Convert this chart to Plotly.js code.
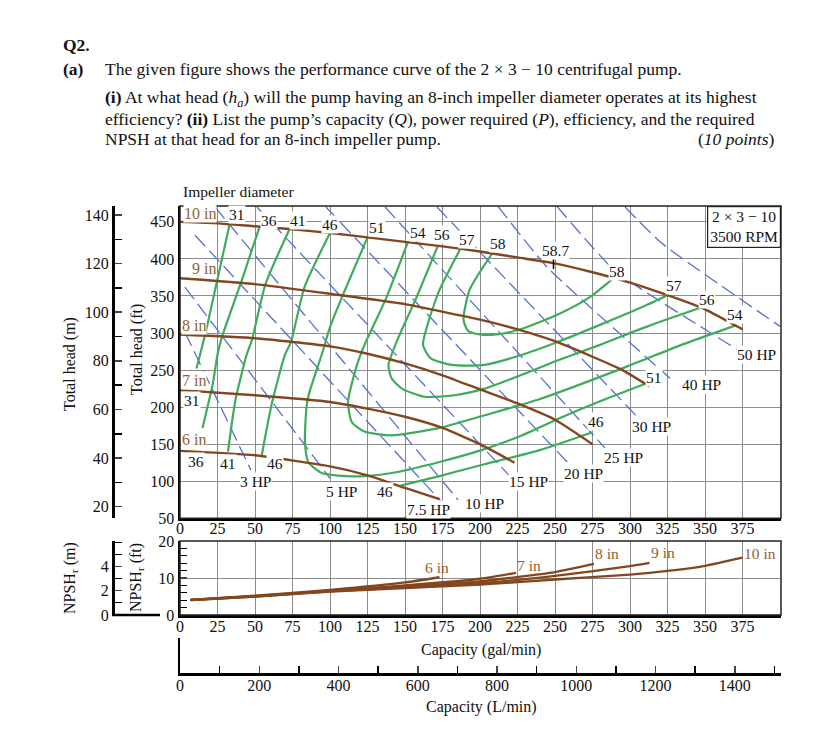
<!DOCTYPE html>
<html><head><meta charset="utf-8">
<script src="https://cdn.plot.ly/plotly-3.0.1.min.js"></script>
<style>html,body{margin:0;padding:0;background:#fff}#chart{width:834px;height:732px}</style>
</head><body><div id="chart"></div>
<script>
// ---------- tick labels ----------
const capTicks = [0,25,50,75,100,125,150,175,200,225,250,275,300,325,350,375];
const headFtTicks = [50,100,150,200,250,300,350,400,450];
const headMTicks = [20,40,60,80,100,120,140];
const npshFtTicks = [0,10,20];
const npshMTicks = [0,2,4];
const lpmTicks = [0,200,400,600,800,1000,1200,1400];

// ---------- head curves (gpm, ft) ----------
const head10Q = [0,25,50,75,100,125,150,175,200,225,250,275,300,325,350,375];
const head10H = [450,448,444,440,435,429,423,417,410,402,394,382,368,351,332,305];
const head9Q = [0,50,100,150,200,225,250,275,295,313];
const head9H = [374,366,353,339,318,305,289,268,250,228];
const head8Q = [0,50,100,125,150,175,200,225,250,275];
const head8H = [298,293,282,272,259,243,224,205,183,150];
const head7Q = [0,50,100,125,150,175,200,223];
const head7H = [223,216,207,198,187,172,150,125];
const head6Q = [0,50,100,125,150,173];
const head6H = [141,135,120,108,91,76];

// ---------- efficiency contours (gpm, ft) ----------
const eff31Q = [33,25,17,11];
const eff31H = [446,373,300,252];
const eff36Q = [53,41,28,25,22,15];
const eff36H = [443,370,295,271,233,172];
const eff41Q = [73,57,48,44.5,37,32];
const eff41H = [440,366,291,271,210,140];
const eff46Q = [100,83,74,70,61,54.5];
const eff46H = [435,362,288,271,203,135];
const eff46bQ = [147,173,203,240,275];
const eff46bH = [94,107,123,142,166];
const eff51Q = [125,110,100,94.5,86.7,84.5,83.3,85.5,94.5,105.5,123,145,173,201,227,253,280,312];
const eff51H = [429,358,308,271,223,203,153,126,111,107.5,107,112.5,126,142,161,185,208,233];
const eff54Q = [152,137,123,118,112,114.5,123,141,173,203,240,297,333,370];
const eff54H = [423,345,284,257,207,180,167,162,172,189,211,254,283,310];
const eff56Q = [172,157,145,139,141,148,163,183,203,227,253,280,313,347];
const eff56H = [418,345,291,257,239,225,214,216,225,243,264,284,310,334];
const eff57Q = [187,173,165,162,167,181,203,227,253,280,307,325];
const eff57H = [414,358,311,284,266,257,257,270,289,311,334,351];
const eff58Q = [208,193,189,192,200,211,227,253,273,289];
const eff58H = [407,358,318,303,298,298,305,326,348,374];
const bepQ = [249];
const bepH = [395];

// ---------- power lines (gpm, ft) ----------
const hp3Q = [3.3,47.3];            const hp3H = [301,115];
const hp5Q = [3.3,41.1,100];        const hp5H = [362,261,104];
const hp75Q = [10,174.5];           const hp75H = [432,72];
const hp10Q = [23.3,185.3];         const hp10H = [470,75];
const hp15Q = [51.3,221.3];         const hp15H = [470,104];
const hp20Q = [97.3,260];           const hp20H = [470,122];
const hp25Q = [136.7,283.3];        const hp25H = [470,145];
const hp30Q = [171.3,306.7];        const hp30H = [470,183];
const hp40Q = [212,244.7,326.7];    const hp40H = [471,389,239];
const hp50Q = [251.3,290,350.7,372]; const hp50H = [471,384,304,277];
const hpEdgeQ = [296.7,321.3,400];  const hpEdgeH = [470,421,309];

// ---------- NPSH required (gpm, ft) ----------
const npsh6Q = [7,50,100,150,173];            const npsh6H = [4.1,5.2,6.8,8.8,10.2];
const npsh7Q = [7,50,100,150,200,224];        const npsh7H = [4.1,5.1,6.6,8.0,9.8,11.4];
const npsh8Q = [7,50,100,150,200,250,276];    const npsh8H = [4.1,5.1,6.5,7.7,9.1,11.6,13.8];
const npsh9Q = [7,50,100,150,200,250,300,313]; const npsh9H = [4.0,5.0,6.4,7.5,8.6,10.6,13.2,14.1];
const npsh10Q = [7,50,100,150,200,250,300,325,350,375]; const npsh10H = [4.0,5.0,6.3,7.3,8.2,9.6,10.9,11.9,13.3,15.5];

// ---------- build ----------
const W = 834, H = 732;
const px = v => v / W, py = v => 1 - v / H;
const FONT = 'Liberation Serif, Times New Roman, serif';
const BROWN = '#84461f', BROWN_T = '#93602f', GREEN = '#3fac5c', BLUE = '#5572d0', GRID = '#8c8c8c';
const FT_PER_M = 3.28084, L_PER_GAL = 3.78541;
const X0 = 180, X1 = 781;
const gpmMax = (X1 - X0) / 1.5;
const mainYmin = 50, mainYmax = 471.4;

const traces = [];
function line(q, h, color, width, sm) {
  traces.push({type:'scatter', mode:'lines', x:q, y:h, xaxis:'x', yaxis:'y', cliponaxis:true,
    line:{color:color, width:width, shape:'spline', smoothing:sm}, hoverinfo:'skip', showlegend:false});
}
[[hp3Q,hp3H],[hp5Q,hp5H],[hp75Q,hp75H],[hp10Q,hp10H],[hp15Q,hp15H],[hp20Q,hp20H],[hp25Q,hp25H],
 [hp30Q,hp30H],[hp40Q,hp40H],[hp50Q,hp50H],[hpEdgeQ,hpEdgeH]].forEach(p =>
  traces.push({type:'scatter', mode:'lines', x:p[0], y:p[1], xaxis:'x', yaxis:'y',
    line:{color:BLUE, width:1.3, dash:'15px,6px', shape:'spline', smoothing:0.5}, hoverinfo:'skip', showlegend:false}));
[[eff31Q,eff31H],[eff36Q,eff36H],[eff41Q,eff41H],[eff46Q,eff46H],[eff46bQ,eff46bH],[eff51Q,eff51H],
 [eff54Q,eff54H],[eff56Q,eff56H],[eff57Q,eff57H],[eff58Q,eff58H]].forEach(p => line(p[0], p[1], GREEN, 2.2, 0.6));
[[head10Q,head10H],[head9Q,head9H],[head8Q,head8H],[head7Q,head7H],[head6Q,head6H]].forEach(p => line(p[0], p[1], BROWN, 2.4, 0.5));
traces.push({type:'scatter', mode:'markers', x:bepQ, y:bepH, xaxis:'x', yaxis:'y',
  marker:{symbol:'line-ns', size:9, line:{color:'#000', width:1.5}}, hoverinfo:'skip', showlegend:false});
[[npsh6Q,npsh6H],[npsh7Q,npsh7H],[npsh8Q,npsh8H],[npsh9Q,npsh9H],[npsh10Q,npsh10H]].forEach(p =>
  traces.push({type:'scatter', mode:'lines', x:p[0], y:p[1], xaxis:'x2', yaxis:'y3',
    line:{color:BROWN, width:2.3, shape:'spline', smoothing:0.6}, hoverinfo:'skip', showlegend:false}));
// helper traces so overlay / free axes are registered
traces.push({type:'scatter', mode:'lines', x:[], y:[], xaxis:'x', yaxis:'y2', showlegend:false, hoverinfo:'skip'});
traces.push({type:'scatter', mode:'lines', x:[], y:[], xaxis:'x2', yaxis:'y4', showlegend:false, hoverinfo:'skip'});
traces.push({type:'scatter', mode:'lines', x:[], y:[], xaxis:'x3', yaxis:'y5', showlegend:false, hoverinfo:'skip'});

const tf = {family:FONT, size:16, color:'#111'};
const ann = [];
const QF = {family:FONT, size:17.5, color:'#111'};
const LF = {family:FONT, size:16, color:'#111'};
function t(text, x, y, o) { ann.push(Object.assign({text:text, x:x, y:y, xref:'paper', yref:'paper', showarrow:false,
  font:QF, xanchor:'left', yanchor:'middle'}, o || {})); }
function d(text, q, h, o) { ann.push(Object.assign({text:text, x:q, y:h, xref:'x', yref:'y', showarrow:false,
  font:{family:FONT, size:15.5, color:'#111'}, bgcolor:'#fff', borderpad:0, xanchor:'center', yanchor:'middle'}, o || {})); }

// question text
t('<b>Q2.</b>', px(61), py(45));
t('<b>(a)</b>', px(61), py(69));
t('The given figure shows the performance curve of the 2 × 3 − 10 centrifugal pump.', px(103), py(69));
t('<b>(i)</b> At what head (<i>h<sub>a</sub></i>) will the pump having an 8-inch impeller diameter operates at its highest', px(103), py(98));
t('efficiency? <b>(ii)</b> List the pump’s capacity (<i>Q</i>), power required (<i>P</i>), efficiency, and the required', px(103), py(119));
t('NPSH at that head for an 8-inch impeller pump.', px(103), py(139));
t('(<i>10 points</i>)', px(777), py(139), {xanchor:'right'});

// axis titles
t('Impeller diameter', px(181), py(191), {font:{family:FONT, size:15.5, color:'#111'}});
t('Total head (m)', px(70), py(364), {textangle:-90, xanchor:'center', font:LF});
t('Total head (ft)', px(137), py(350), {textangle:-90, xanchor:'center', font:LF});
t('NPSH<sub>r</sub> (m)', px(70), py(578), {textangle:-90, xanchor:'center', font:LF});
t('NPSH<sub>r</sub> (ft)', px(136), py(578), {textangle:-90, xanchor:'center', font:LF});
t('Capacity (gal/min)', px(481), py(650), {xanchor:'center', font:LF});
t('Capacity (L/min)', px(481), py(707), {xanchor:'center', font:LF});

// diameter labels
const bf = {family:FONT, size:16, color:BROWN_T};
d('10 in', 2, 460.6, {xanchor:'left', font:bf});
d('9 in', 7, 386.4, {xanchor:'left', font:bf});
d('8 in', 0.5, 309.5, {xanchor:'left', font:bf});
d('7 in', 0.5, 235.3, {xanchor:'left', font:bf});
d('6 in', 0.5, 157, {xanchor:'left', font:bf});

// efficiency labels
d('31', 37.8, 459.3); d('36', 59.3, 452.5); d('41', 78.5, 451.6); d('46', 100, 445.8);
d('51', 131.1, 442.7); d('54', 158.9, 436); d('56', 174.5, 432.3); d('57', 191.1, 425.6);
d('58', 212.2, 421.1); d('58.7', 250, 411.1); d('58', 291.1, 382.8); d('57', 329.5, 363.5);
d('56', 351.1, 345.9); d('54', 370, 325.3); d('51', 316, 239.7); d('46', 277.1, 180.4);
d('31', 8, 209.6); d('36', 10.5, 126.4); d('41', 31.8, 124.6); d('46', 63.3, 124.6); d('46', 136.7, 85.9);

// power labels
d('3 HP', 50, 99.4); d('5 HP', 107.8, 85.9); d('7.5 HP', 165.5, 62); d('10 HP', 203.3, 70.2);
d('15 HP', 232.2, 99.4); d('20 HP', 268.9, 110.7); d('25 HP', 295.5, 131.8); d('30 HP', 314.4, 173.6);
d('40 HP', 347.8, 230.8); d('50 HP', 384.4, 270.4);

// model box
ann.push({text:'2 × 3 − 10<br>3500 RPM', x:1, y:1, xref:'x domain', yref:'y domain', xanchor:'right', yanchor:'top',
  showarrow:false, font:{family:FONT, size:15.5, color:'#111'}, bgcolor:'#fff', bordercolor:'#222', borderwidth:1.2,
  borderpad:1, width:70, align:'center'});

// NPSH labels
const nf = {family:FONT, size:15.5, color:BROWN_T};
[['6 in',171.3,12.8],['7 in',232.7,13.3],['8 in',284.7,16.5],['9 in',322,16.8],['10 in',386.7,16.6]].forEach(a =>
  ann.push({text:a[0], x:a[1], y:a[2], xref:'x2', yref:'y3', showarrow:false, font:nf, xanchor:'center', yanchor:'middle'}));

const axBase = {showline:true, linecolor:'#000', linewidth:2.5, zeroline:false, tickfont:tf, ticks:'', fixedrange:true};
const layout = {
  width:W, height:H, margin:{l:0, r:0, t:0, b:0}, paper_bgcolor:'#fff', plot_bgcolor:'#fff',
  font:{family:FONT, color:'#111'}, showlegend:false,
  xaxis: Object.assign({}, axBase, {domain:[px(X0), px(X1)], range:[0, gpmMax], anchor:'y', tickmode:'array', tickvals:capTicks,
    showgrid:true, gridcolor:GRID, gridwidth:1, ticklabelstandoff:-6}),
  yaxis: Object.assign({}, axBase, {domain:[py(518.3), py(206)], range:[mainYmin, mainYmax], anchor:'x', tickmode:'array',
    tickvals:headFtTicks, showgrid:true, gridcolor:GRID, gridwidth:1}),
  yaxis2: Object.assign({}, axBase, {overlaying:'y', anchor:'free', position:px(113), side:'left',
    range:[mainYmin/FT_PER_M, mainYmax/FT_PER_M], tickmode:'array', tickvals:headMTicks, ticks:'inside', ticklen:7, tickwidth:1.5,
    showgrid:false, minor:{dtick:10, tick0:0, ticks:'inside', ticklen:7, tickwidth:1.5, tickcolor:'#000'}}),
  xaxis2: Object.assign({}, axBase, {domain:[px(X0), px(X1)], range:[0, gpmMax], anchor:'y3', tickmode:'array', tickvals:capTicks,
    showgrid:true, gridcolor:GRID, gridwidth:1, ticklabelstandoff:-5}),
  yaxis3: Object.assign({}, axBase, {domain:[py(615), py(541)], range:[0, 20], anchor:'x2', tickmode:'array', tickvals:npshFtTicks,
    ticks:'inside', ticklen:7, tickwidth:1.5, showgrid:true, gridcolor:GRID, gridwidth:1,
    minor:{dtick:2, tick0:0, ticks:'inside', ticklen:7, tickwidth:1.2, tickcolor:'#000'}}),
  yaxis4: Object.assign({}, axBase, {overlaying:'y3', anchor:'free', position:px(113), side:'left',
    range:[0, 20/FT_PER_M], tickmode:'array', tickvals:npshMTicks, ticks:'inside', ticklen:7, tickwidth:1.5, showgrid:false,
    minor:{dtick:1, tick0:0, ticks:'inside', ticklen:7, tickwidth:1.2, tickcolor:'#000'}}),
  xaxis3: Object.assign({}, axBase, {domain:[px(X0), px(X1)], range:[0, gpmMax*L_PER_GAL], anchor:'y5', tickmode:'array',
    tickvals:lpmTicks, ticks:'inside', ticklen:7, tickwidth:1.5, showgrid:false, ticklabelstandoff:-4,
    minor:{dtick:100, tick0:0, ticks:'inside', ticklen:7, tickwidth:1.5, tickcolor:'#000'}}),
  yaxis5: Object.assign({}, axBase, {domain:[py(673), py(638)], range:[0,1], anchor:'x3', showticklabels:false, showgrid:false}),
  shapes:[
    {type:'rect', xref:'x domain', yref:'y domain', x0:0, x1:1, y0:0, y1:1, line:{color:'#222', width:1.5}},
    {type:'rect', xref:'x2 domain', yref:'y3 domain', x0:0, x1:1, y0:0, y1:1, line:{color:'#222', width:1.5}},
    {type:'line', xref:'paper', yref:'paper', x0:px(112), x1:px(160), y0:py(615), y1:py(615), line:{color:'#000', width:2.5}}
  ],
  annotations: ann
};
Plotly.newPlot('chart', traces, layout, {staticPlot:true, displayModeBar:false});
</script></body></html>
